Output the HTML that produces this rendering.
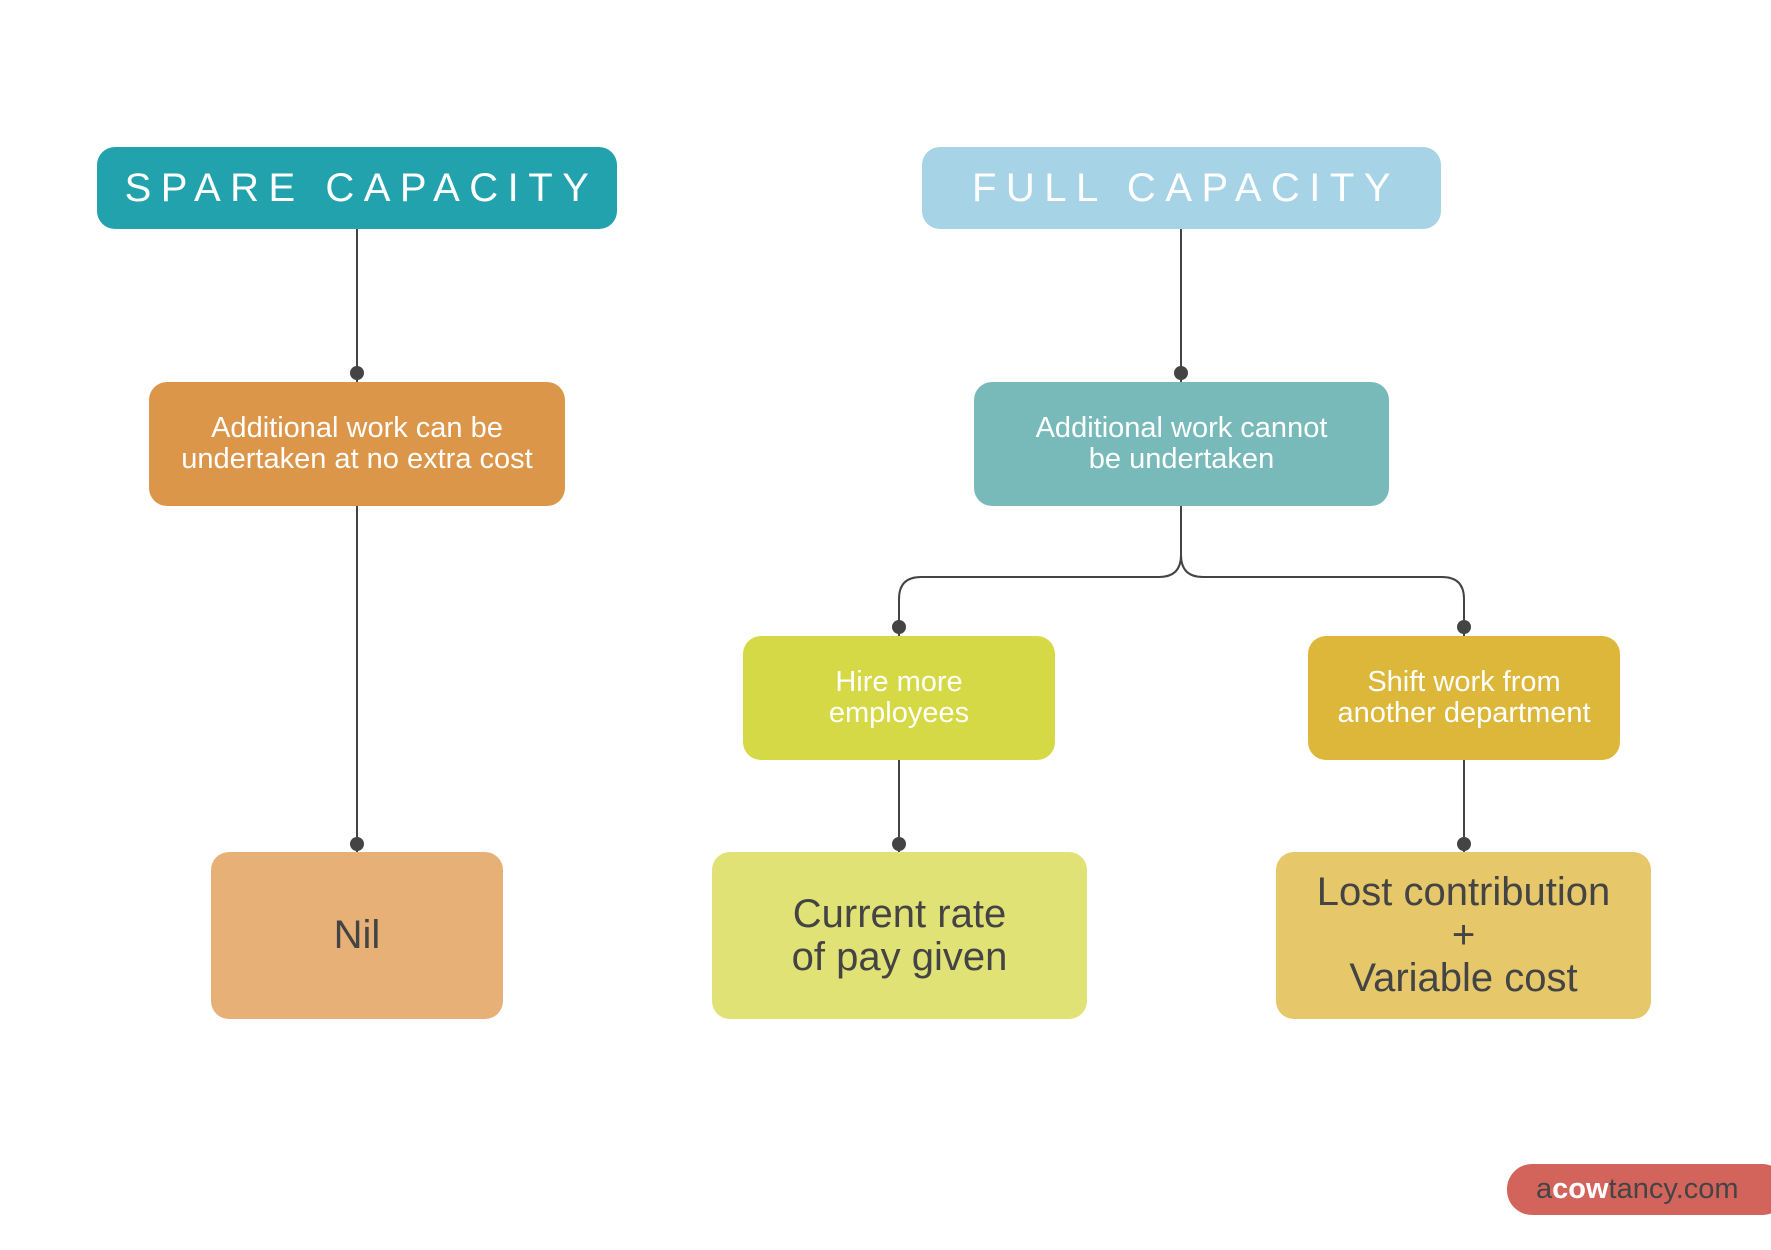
<!DOCTYPE html>
<html><head><meta charset="utf-8"><style>
body{margin:0;width:1771px;height:1250px;background:#fff;position:relative;overflow:hidden;font-family:"Liberation Sans",sans-serif}
.b{position:absolute;display:flex;align-items:center;justify-content:center;text-align:center;border-radius:18px;color:#fff;box-sizing:border-box}
.h{font-size:40px;letter-spacing:9.5px;padding-left:9px;white-space:nowrap}
.m{font-size:29px;line-height:31px}
.l{font-size:40px;line-height:43px;color:#444}
</style></head><body>
<svg width="1771" height="1250" style="position:absolute;left:0;top:0">
<g stroke="#444" stroke-width="2" fill="none">
<line x1="357" y1="229" x2="357" y2="382"/>
<line x1="357" y1="506" x2="357" y2="852"/>
<line x1="1181" y1="229" x2="1181" y2="382"/>
<path d="M1181 506 V555 Q1181 577 1159 577 H921 Q899 577 899 599 V636"/>
<path d="M1181 555 Q1181 577 1203 577 H1442 Q1464 577 1464 599 V636"/>
<line x1="899" y1="760" x2="899" y2="852"/>
<line x1="1464" y1="760" x2="1464" y2="852"/>
</g>
<g fill="#444">
<circle cx="357" cy="373" r="7"/><circle cx="1181" cy="373" r="7"/>
<circle cx="899" cy="627" r="7"/><circle cx="1464" cy="627" r="7"/>
<circle cx="357" cy="844" r="7"/><circle cx="899" cy="844" r="7"/><circle cx="1464" cy="844" r="7"/>
</g></svg>
<div class="b h" style="left:97px;top:147px;width:520px;height:82px;background:#22a2ad">SPARE CAPACITY</div>
<div class="b h" style="left:922px;top:147px;width:519px;height:82px;background:#a6d3e5">FULL CAPACITY</div>
<div class="b m" style="left:149px;top:382px;width:416px;height:124px;background:#dc9649">Additional work can be<br>undertaken at no extra cost</div>
<div class="b m" style="left:974px;top:382px;width:415px;height:124px;background:#78baba">Additional work cannot<br>be undertaken</div>
<div class="b m" style="left:743px;top:636px;width:312px;height:124px;background:#d6d946">Hire more<br>employees</div>
<div class="b m" style="left:1308px;top:636px;width:312px;height:124px;background:#dcb73a">Shift work from<br>another department</div>
<div class="b l" style="left:211px;top:852px;width:292px;height:167px;background:#e6b077">Nil</div>
<div class="b l" style="left:712px;top:852px;width:375px;height:167px;background:#e1e276">Current rate<br>of pay given</div>
<div class="b l" style="left:1276px;top:852px;width:375px;height:167px;background:#e6c76a">Lost contribution<br>+<br>Variable cost</div>
<div class="b" style="left:1507px;top:1164px;width:280px;height:51px;background:#d2645c;border-radius:25px;justify-content:flex-start;padding-left:29px;font-size:29px;color:#444">a<b style="color:#fff">cow</b>tancy.com</div>
</body></html>
